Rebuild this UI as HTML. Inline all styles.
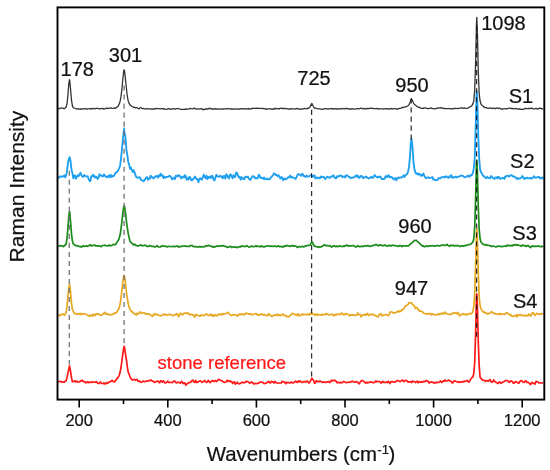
<!DOCTYPE html><html><head><meta charset="utf-8"><title>Raman spectra</title>
<style>html,body{margin:0;padding:0;background:#fff;}svg{display:block;}text{font-family:"Liberation Sans",Arial,sans-serif;fill:#111;stroke:#111;stroke-width:0.22px;}</style></head><body>
<svg width="550" height="470" viewBox="0 0 550 470">
<rect width="550" height="470" fill="#fff"/>
<polyline fill="none" stroke="#333333" stroke-width="1.3" stroke-linejoin="round" points="58.0,108.1 58.9,108.8 59.8,108.6 60.7,107.9 61.6,108.1 62.5,108.1 63.4,108.5 64.3,108.7 65.2,108.0 66.1,107.0 67.0,103.8 67.9,95.2 68.8,83.5 69.5,79.7 69.7,80.1 70.6,89.6 71.5,100.3 72.4,105.9 73.3,107.6 74.2,108.0 75.1,108.5 76.0,108.9 76.9,108.7 77.8,109.0 78.7,108.8 79.6,109.2 80.5,108.8 81.4,109.0 82.3,109.2 83.2,108.9 84.1,108.7 85.0,108.6 85.9,109.0 86.8,109.0 87.7,108.8 88.6,108.9 89.5,108.7 90.4,108.6 91.3,109.1 92.2,108.7 93.1,108.3 94.0,108.7 94.9,108.8 95.8,108.4 96.7,108.4 97.6,108.3 98.5,108.6 99.4,108.9 100.3,108.6 101.2,108.6 102.1,108.3 103.0,108.5 103.9,109.1 104.8,108.9 105.7,108.3 106.6,108.2 107.5,108.5 108.4,108.3 109.3,108.1 110.2,108.1 111.1,108.0 112.0,108.2 112.9,108.3 113.8,108.2 114.7,107.9 115.6,108.3 116.5,107.5 117.4,106.8 118.3,106.1 119.2,104.1 120.1,101.5 121.0,96.4 121.9,89.2 122.8,79.5 123.7,71.0 124.2,69.8 124.6,71.4 125.5,79.6 126.4,88.3 127.3,96.0 128.2,100.9 129.1,103.4 130.0,104.9 130.9,105.5 131.8,106.3 132.7,106.8 133.6,107.3 134.5,107.4 135.4,107.9 136.3,107.7 137.2,107.6 138.1,108.5 139.0,108.8 139.9,107.9 140.8,107.5 141.7,108.4 142.6,108.7 143.5,108.4 144.4,108.8 145.3,108.8 146.2,108.8 147.1,108.7 148.0,108.9 148.9,108.8 149.8,108.9 150.7,109.1 151.6,109.0 152.5,109.0 153.4,108.8 154.3,109.0 155.2,108.9 156.1,108.3 157.0,108.6 157.9,108.7 158.8,108.6 159.7,108.8 160.6,108.8 161.5,108.6 162.4,108.7 163.3,109.1 164.2,108.7 165.1,109.1 166.0,109.3 166.9,109.2 167.8,109.0 168.7,108.5 169.6,109.1 170.5,109.0 171.4,109.4 172.3,108.8 173.2,108.5 174.1,108.8 175.0,109.0 175.9,108.8 176.8,108.7 177.7,108.7 178.6,108.5 179.5,109.0 180.4,109.4 181.3,109.4 182.2,109.4 183.1,109.3 184.0,109.3 184.9,109.2 185.8,109.5 186.7,108.9 187.6,109.1 188.5,109.2 189.4,108.7 190.3,108.5 191.2,108.7 192.1,108.8 193.0,108.9 193.9,108.0 194.8,108.4 195.7,109.0 196.6,108.9 197.5,108.8 198.4,109.1 199.3,108.9 200.2,108.9 201.1,108.6 202.0,108.8 202.9,109.8 203.8,109.4 204.7,109.5 205.6,108.9 206.5,109.0 207.4,108.9 208.3,109.1 209.2,108.3 210.1,108.2 211.0,109.0 211.9,108.8 212.8,109.0 213.7,108.9 214.6,109.1 215.5,108.5 216.4,109.1 217.3,109.0 218.2,108.9 219.1,109.1 220.0,109.1 220.9,109.1 221.8,109.0 222.7,109.2 223.6,109.0 224.5,108.9 225.4,108.8 226.3,108.7 227.2,108.8 228.1,108.5 229.0,108.8 229.9,108.8 230.8,109.0 231.7,109.0 232.6,109.1 233.5,108.8 234.4,109.2 235.3,109.1 236.2,108.8 237.1,108.8 238.0,109.1 238.9,109.4 239.8,108.8 240.7,108.7 241.6,109.0 242.5,108.5 243.4,108.8 244.3,109.0 245.2,108.7 246.1,108.8 247.0,108.9 247.9,109.2 248.8,108.4 249.7,108.9 250.6,109.1 251.5,108.5 252.4,108.5 253.3,108.4 254.2,108.4 255.1,108.3 256.0,108.2 256.9,108.4 257.8,108.1 258.7,108.4 259.6,108.6 260.5,108.4 261.4,108.3 262.3,108.5 263.2,108.7 264.1,108.5 265.0,109.0 265.9,109.0 266.8,108.8 267.7,109.1 268.6,108.9 269.5,108.9 270.4,108.7 271.3,109.1 272.2,109.1 273.1,108.9 274.0,109.3 274.9,108.1 275.8,108.8 276.7,108.9 277.6,108.5 278.5,108.6 279.4,109.0 280.3,108.3 281.2,108.2 282.1,108.5 283.0,108.5 283.9,108.4 284.8,108.7 285.7,108.5 286.6,108.6 287.5,108.9 288.4,109.2 289.3,109.0 290.2,109.1 291.1,108.7 292.0,108.8 292.9,108.8 293.8,108.9 294.7,108.9 295.6,109.1 296.5,108.7 297.4,108.4 298.3,109.0 299.2,109.1 300.1,109.0 301.0,109.1 301.9,109.1 302.8,108.8 303.7,108.8 304.6,108.4 305.5,108.7 306.4,108.6 307.3,108.4 308.2,108.5 309.1,107.7 310.0,106.9 310.9,104.9 311.8,103.5 311.8,103.4 312.7,105.0 313.6,106.8 314.5,108.2 315.4,108.0 316.3,108.4 317.2,108.7 318.1,108.9 319.0,108.9 319.9,108.9 320.8,109.2 321.7,109.3 322.6,109.2 323.5,109.1 324.4,108.7 325.3,108.6 326.2,108.9 327.1,108.9 328.0,109.2 328.9,108.8 329.8,108.8 330.7,108.6 331.6,108.4 332.5,109.2 333.4,108.7 334.3,108.9 335.2,108.6 336.1,109.0 337.0,109.0 337.9,108.8 338.8,108.7 339.7,108.8 340.6,109.0 341.5,108.8 342.4,108.4 343.3,108.6 344.2,109.0 345.1,108.5 346.0,108.5 346.9,108.5 347.8,108.8 348.7,108.7 349.6,109.1 350.5,108.8 351.4,109.0 352.3,108.8 353.2,108.7 354.1,109.2 355.0,109.1 355.9,108.9 356.8,108.6 357.7,108.7 358.6,109.0 359.5,108.6 360.4,108.3 361.3,108.0 362.2,108.9 363.1,108.7 364.0,108.3 364.9,109.0 365.8,109.0 366.7,108.5 367.6,108.3 368.5,108.7 369.4,108.4 370.3,108.4 371.2,108.1 372.1,108.4 373.0,108.3 373.9,108.8 374.8,108.7 375.7,108.7 376.6,108.5 377.5,108.7 378.4,109.1 379.3,108.7 380.2,108.7 381.1,108.8 382.0,108.9 382.9,108.9 383.8,109.2 384.7,108.7 385.6,108.7 386.5,108.9 387.4,108.7 388.3,109.1 389.2,109.0 390.1,108.8 391.0,108.4 391.9,109.1 392.8,108.8 393.7,108.6 394.6,108.7 395.5,108.6 396.4,109.1 397.3,109.3 398.2,108.4 399.1,108.6 400.0,108.3 400.9,108.2 401.8,107.5 402.7,107.3 403.6,107.5 404.5,107.0 405.4,106.9 406.3,106.6 407.2,106.2 408.1,105.7 409.0,104.6 409.9,102.9 410.8,100.2 411.4,98.7 411.7,99.1 412.6,101.1 412.6,101.1 413.5,103.0 414.4,104.5 415.3,104.9 416.2,105.8 417.1,106.6 418.0,107.2 418.9,107.2 419.8,107.6 420.7,108.1 421.6,108.3 422.5,108.2 423.4,108.3 424.3,107.9 425.2,107.9 426.1,108.1 427.0,108.4 427.9,108.7 428.8,108.6 429.7,108.3 430.6,107.9 431.5,108.2 432.4,108.6 433.3,108.6 434.2,108.7 435.1,108.8 436.0,108.5 436.9,108.3 437.8,107.8 438.7,108.1 439.6,107.8 440.5,107.7 441.4,108.1 442.3,107.9 443.2,108.2 444.1,108.6 445.0,108.5 445.9,108.6 446.8,108.7 447.7,108.7 448.6,108.6 449.5,108.5 450.4,108.8 451.3,108.7 452.2,109.0 453.1,108.6 454.0,108.4 454.9,108.5 455.8,108.4 456.7,108.4 457.6,108.6 458.5,108.5 459.4,108.2 460.3,108.1 461.2,108.1 462.1,107.7 463.0,108.3 463.9,108.1 464.8,108.0 465.7,108.3 466.6,108.4 467.5,108.3 468.4,107.7 469.3,107.1 470.2,106.8 471.1,106.2 472.0,105.4 472.9,103.6 473.8,100.7 474.7,90.0 475.6,62.7 476.5,23.5 476.8,17.3 477.4,32.0 478.3,71.9 479.2,93.8 480.1,101.0 481.0,104.1 481.9,105.2 482.8,106.1 483.7,106.8 484.6,107.6 485.5,107.7 486.4,107.4 487.3,108.2 488.2,108.3 489.1,108.1 490.0,107.9 490.9,108.1 491.8,108.1 492.7,108.6 493.6,108.2 494.5,108.3 495.4,108.8 496.3,108.1 497.2,107.9 498.1,108.6 499.0,108.4 499.9,108.2 500.8,108.9 501.7,109.2 502.6,109.0 503.5,108.9 504.4,108.8 505.3,108.6 506.2,108.7 507.1,109.0 508.0,108.5 508.9,108.1 509.8,108.1 510.7,108.3 511.6,108.5 512.5,108.4 513.4,108.8 514.3,108.6 515.2,108.7 516.1,108.5 517.0,108.8 517.9,109.2 518.8,109.0 519.7,108.8 520.6,109.4 521.5,109.4 522.4,109.4 523.3,109.5 524.2,108.8 525.1,108.5 526.0,108.5 526.9,108.6 527.8,108.6 528.7,108.5 529.6,108.7 530.5,108.3 531.4,108.2 532.3,108.4 533.2,108.8 534.1,108.8 535.0,108.7 535.9,108.3 536.8,108.7 537.7,109.2 538.6,108.5 539.5,108.1 540.4,108.3 541.3,108.4 542.2,108.8 543.1,109.4"/>
<polyline fill="none" stroke="#1e9ff0" stroke-width="1.85" stroke-linejoin="round" points="58.0,177.8 58.9,177.8 59.8,176.4 60.7,176.4 61.6,176.8 62.5,176.5 63.4,176.5 64.3,175.3 65.2,177.3 66.1,175.6 67.0,171.1 67.9,163.2 68.8,159.0 69.5,157.6 69.7,157.1 70.6,161.3 71.5,169.8 72.4,173.2 73.3,178.4 74.2,175.5 75.1,175.6 76.0,178.8 76.9,176.9 77.8,175.1 78.7,176.0 79.6,174.4 80.5,172.6 81.4,175.2 82.3,176.5 83.2,176.8 84.1,175.0 85.0,175.9 85.9,176.4 86.8,176.4 87.7,176.2 88.6,179.0 89.5,180.6 90.4,181.1 91.3,176.2 92.2,176.2 93.1,174.6 94.0,176.5 94.9,177.6 95.8,176.3 96.7,177.2 97.6,179.0 98.5,178.0 99.4,174.2 100.3,175.3 101.2,175.5 102.1,176.3 103.0,176.4 103.9,174.4 104.8,175.6 105.7,176.8 106.6,176.5 107.5,177.4 108.4,176.1 109.3,175.2 110.2,177.3 111.1,175.0 112.0,176.9 112.9,175.9 113.8,176.1 114.7,174.4 115.6,172.9 116.5,172.4 117.4,171.6 118.3,170.0 119.2,168.2 120.1,165.7 121.0,158.8 121.9,150.0 122.8,140.0 123.7,132.1 124.2,128.4 124.2,130.9 124.6,132.9 125.5,137.6 126.4,149.4 127.3,154.9 128.2,161.8 129.1,164.4 130.0,168.9 130.9,167.5 131.8,170.0 132.7,172.1 133.6,170.0 134.5,172.1 135.4,174.9 136.3,177.3 137.2,177.4 138.1,177.9 139.0,177.1 139.9,177.4 140.8,179.7 141.7,180.1 142.6,180.3 143.5,181.3 144.4,180.3 145.3,179.1 146.2,177.6 147.1,177.1 148.0,179.6 148.9,178.5 149.8,178.7 150.7,175.6 151.6,177.4 152.5,177.1 153.4,178.5 154.3,178.0 155.2,176.3 156.1,176.4 157.0,175.9 157.9,177.7 158.8,175.4 159.7,176.3 160.6,173.6 161.5,175.6 162.4,175.1 163.3,178.0 164.2,176.5 165.1,177.8 166.0,177.4 166.9,176.6 167.8,177.0 168.7,176.4 169.6,175.9 170.5,176.3 171.4,177.8 172.3,179.5 173.2,178.5 174.1,177.6 175.0,179.1 175.9,175.6 176.8,176.3 177.7,176.4 178.6,175.1 179.5,175.6 180.4,176.8 181.3,178.5 182.2,176.8 183.1,176.5 184.0,177.6 184.9,175.2 185.8,176.2 186.7,179.8 187.6,178.2 188.5,179.5 189.4,176.8 190.3,177.4 191.2,180.3 192.1,180.3 193.0,178.9 193.9,178.6 194.8,176.5 195.7,177.6 196.6,179.2 197.5,179.1 198.4,182.2 199.3,179.3 200.2,178.0 201.1,179.3 202.0,179.6 202.9,177.0 203.8,174.6 204.7,176.7 205.6,178.2 206.5,175.6 207.4,179.1 208.3,177.0 209.2,177.7 210.1,176.4 211.0,178.0 211.9,175.6 212.8,176.9 213.7,180.0 214.6,180.3 215.5,177.4 216.4,174.8 217.3,176.1 218.2,176.6 219.1,176.9 220.0,175.7 220.9,176.1 221.8,176.9 222.7,178.4 223.6,175.8 224.5,175.8 225.4,178.6 226.3,174.3 227.2,175.4 228.1,177.4 229.0,178.5 229.9,174.8 230.8,174.5 231.7,176.6 232.6,178.2 233.5,175.1 234.4,177.1 235.3,176.8 236.2,172.4 237.1,173.0 238.0,175.4 238.9,177.4 239.8,176.8 240.7,179.7 241.6,177.2 242.5,177.9 243.4,179.0 244.3,179.2 245.2,176.8 246.1,177.1 247.0,177.0 247.9,176.5 248.8,178.6 249.7,179.6 250.6,179.8 251.5,177.7 252.4,176.1 253.3,176.7 254.2,176.4 255.1,178.3 256.0,178.0 256.9,178.3 257.8,178.2 258.7,174.8 259.6,175.6 260.5,177.8 261.4,178.1 262.3,177.7 263.2,178.9 264.1,177.6 265.0,179.2 265.9,178.7 266.8,179.1 267.7,178.7 268.6,179.4 269.5,179.3 270.4,178.2 271.3,177.2 272.2,176.1 273.1,175.0 274.0,173.3 274.9,173.9 275.8,175.1 276.7,175.0 277.6,176.3 278.5,175.2 279.4,176.5 280.3,178.6 281.2,177.2 282.1,177.5 283.0,180.3 283.9,178.9 284.8,178.4 285.7,179.4 286.6,178.8 287.5,178.3 288.4,177.2 289.3,176.9 290.2,175.5 291.1,177.7 292.0,177.0 292.9,177.6 293.8,177.6 294.7,178.6 295.6,178.9 296.5,177.2 297.4,175.1 298.3,174.0 299.2,174.6 300.1,175.0 301.0,175.8 301.9,174.0 302.8,174.2 303.7,176.0 304.6,176.3 305.5,177.0 306.4,175.4 307.3,176.2 308.2,176.8 309.1,176.3 310.0,175.6 310.9,175.3 311.8,175.6 311.8,175.9 312.7,176.8 313.6,175.8 314.5,175.3 315.4,178.6 316.3,177.8 317.2,177.5 318.1,178.4 319.0,177.7 319.9,178.1 320.8,176.4 321.7,177.4 322.6,177.0 323.5,176.6 324.4,177.9 325.3,179.1 326.2,178.0 327.1,176.7 328.0,177.1 328.9,177.1 329.8,178.0 330.7,177.0 331.6,176.3 332.5,176.5 333.4,175.3 334.3,177.0 335.2,178.3 336.1,178.4 337.0,176.2 337.9,176.7 338.8,176.0 339.7,176.2 340.6,175.3 341.5,175.8 342.4,177.2 343.3,176.7 344.2,176.2 345.1,177.6 346.0,175.5 346.9,175.3 347.8,175.8 348.7,176.9 349.6,177.0 350.5,178.2 351.4,177.6 352.3,177.9 353.2,177.4 354.1,177.4 355.0,176.3 355.9,175.4 356.8,176.7 357.7,175.4 358.6,177.6 359.5,177.9 360.4,176.2 361.3,176.0 362.2,176.3 363.1,178.2 364.0,177.5 364.9,177.1 365.8,176.5 366.7,177.6 367.6,177.5 368.5,178.5 369.4,177.9 370.3,177.6 371.2,176.7 372.1,177.9 373.0,177.8 373.9,176.2 374.8,175.1 375.7,176.3 376.6,176.9 377.5,177.5 378.4,176.7 379.3,177.0 380.2,176.5 381.1,177.9 382.0,179.2 382.9,179.0 383.8,179.1 384.7,178.7 385.6,176.1 386.5,176.2 387.4,177.3 388.3,175.1 389.2,176.2 390.1,177.4 391.0,176.7 391.9,177.2 392.8,178.4 393.7,179.5 394.6,178.1 395.5,178.3 396.4,180.4 397.3,178.1 398.2,177.5 399.1,178.1 400.0,177.5 400.9,177.5 401.8,177.6 402.7,176.7 403.6,175.2 404.5,176.9 405.4,175.4 406.3,174.5 407.2,173.9 408.1,171.3 409.0,166.9 409.9,157.3 410.8,143.7 411.4,138.8 411.7,140.0 412.6,148.3 413.5,162.1 414.4,168.7 415.3,172.2 416.2,173.8 417.1,173.3 418.0,174.7 418.9,173.6 419.8,174.0 420.7,175.8 421.6,174.7 422.5,175.5 423.4,173.4 424.3,175.9 425.2,177.2 426.1,178.2 427.0,177.7 427.9,177.2 428.8,177.6 429.7,178.1 430.6,177.9 431.5,177.5 432.4,176.9 433.3,179.6 434.2,179.4 435.1,179.8 436.0,180.4 436.9,180.2 437.8,179.5 438.7,178.0 439.6,178.4 440.5,178.4 441.4,177.2 442.3,177.1 443.2,177.3 444.1,176.8 445.0,177.5 445.9,176.4 446.8,176.5 447.7,177.5 448.6,178.1 449.5,176.2 450.4,176.8 451.3,175.1 452.2,177.7 453.1,177.1 454.0,177.7 454.9,177.0 455.8,176.4 456.7,177.5 457.6,177.0 458.5,176.6 459.4,176.5 460.3,175.9 461.2,175.5 462.1,175.6 463.0,176.1 463.9,176.8 464.8,177.4 465.7,177.0 466.6,176.5 467.5,175.5 468.4,176.4 469.3,176.8 470.2,175.2 471.1,175.6 472.0,174.8 472.9,172.7 473.8,168.4 474.7,158.5 475.6,129.7 476.5,95.3 476.8,91.5 477.4,102.4 478.3,136.8 479.2,158.9 480.1,169.4 481.0,171.9 481.9,173.4 482.8,175.5 483.7,175.8 484.6,177.1 485.5,177.8 486.4,178.2 487.3,176.8 488.2,177.7 489.1,178.2 490.0,178.3 490.9,176.0 491.8,176.6 492.7,177.7 493.6,178.4 494.5,178.9 495.4,177.4 496.3,177.3 497.2,178.5 498.1,176.6 499.0,177.0 499.9,178.7 500.8,178.7 501.7,178.4 502.6,177.8 503.5,178.1 504.4,178.9 505.3,176.4 506.2,176.6 507.1,175.7 508.0,175.6 508.9,176.5 509.8,175.9 510.7,175.2 511.6,175.2 512.5,176.1 513.4,176.7 514.3,176.5 515.2,177.4 516.1,177.9 517.0,179.1 517.9,178.0 518.8,178.8 519.7,178.6 520.6,178.1 521.5,177.4 522.4,176.1 523.3,177.6 524.2,179.1 525.1,178.1 526.0,178.3 526.9,177.6 527.8,178.3 528.7,178.3 529.6,178.0 530.5,178.1 531.4,178.9 532.3,178.0 533.2,177.1 534.1,176.3 535.0,177.6 535.9,177.9 536.8,177.3 537.7,177.2 538.6,176.7 539.5,177.8 540.4,178.6 541.3,177.6 542.2,177.5 543.1,179.1"/>
<polyline fill="none" stroke="#1c8c1c" stroke-width="1.7" stroke-linejoin="round" points="58.0,246.3 58.9,246.1 59.8,245.7 60.7,245.7 61.6,245.9 62.5,245.8 63.4,246.7 64.3,245.4 65.2,245.4 66.1,244.1 67.0,238.6 67.9,228.1 68.8,215.7 69.5,211.7 69.7,211.9 70.6,222.0 71.5,233.8 72.4,241.1 73.3,243.9 74.2,244.5 75.1,245.3 76.0,245.9 76.9,245.6 77.8,245.8 78.7,246.3 79.6,246.6 80.5,246.5 81.4,247.2 82.3,246.0 83.2,245.9 84.1,246.6 85.0,246.1 85.9,246.2 86.8,245.7 87.7,246.4 88.6,246.0 89.5,245.1 90.4,244.9 91.3,246.0 92.2,245.5 93.1,245.2 94.0,245.5 94.9,245.0 95.8,246.0 96.7,245.8 97.6,246.2 98.5,245.6 99.4,246.0 100.3,246.4 101.2,246.7 102.1,245.5 103.0,245.5 103.9,245.4 104.8,245.2 105.7,245.5 106.6,245.8 107.5,245.9 108.4,245.7 109.3,245.0 110.2,245.8 111.1,245.6 112.0,245.2 112.9,244.7 113.8,244.4 114.7,244.7 115.6,244.4 116.5,243.1 117.4,241.6 118.3,240.3 119.2,238.3 120.1,234.8 121.0,229.1 121.9,221.7 122.8,213.1 123.7,207.2 124.2,205.9 124.6,206.7 125.5,212.7 126.4,221.0 127.3,227.6 128.2,233.4 129.1,237.5 130.0,241.2 130.9,242.3 131.8,243.2 132.7,243.7 133.6,245.0 134.5,244.3 135.4,244.6 136.3,245.7 137.2,245.9 138.1,245.9 139.0,245.6 139.9,245.3 140.8,244.9 141.7,245.6 142.6,245.5 143.5,245.6 144.4,245.2 145.3,245.4 146.2,245.5 147.1,246.3 148.0,246.3 148.9,246.3 149.8,245.5 150.7,245.8 151.6,246.3 152.5,246.4 153.4,246.3 154.3,246.8 155.2,247.0 156.1,246.4 157.0,245.7 157.9,246.6 158.8,246.9 159.7,247.0 160.6,246.8 161.5,246.0 162.4,245.8 163.3,246.1 164.2,246.1 165.1,246.2 166.0,246.4 166.9,247.0 167.8,246.6 168.7,246.3 169.6,246.5 170.5,246.5 171.4,246.7 172.3,246.5 173.2,246.2 174.1,246.6 175.0,246.6 175.9,246.2 176.8,246.1 177.7,246.0 178.6,247.2 179.5,246.5 180.4,246.7 181.3,246.5 182.2,246.1 183.1,246.0 184.0,246.0 184.9,246.2 185.8,245.9 186.7,246.5 187.6,246.5 188.5,246.2 189.4,246.4 190.3,245.5 191.2,245.6 192.1,245.5 193.0,246.3 193.9,246.7 194.8,246.6 195.7,246.6 196.6,247.1 197.5,247.0 198.4,247.0 199.3,246.5 200.2,247.1 201.1,246.5 202.0,246.9 202.9,246.9 203.8,246.7 204.7,246.7 205.6,246.1 206.5,245.6 207.4,245.8 208.3,245.6 209.2,245.4 210.1,245.9 211.0,246.2 211.9,246.6 212.8,247.1 213.7,246.5 214.6,247.2 215.5,246.5 216.4,246.4 217.3,245.9 218.2,246.2 219.1,246.3 220.0,245.8 220.9,245.9 221.8,245.8 222.7,245.7 223.6,245.9 224.5,246.1 225.4,246.5 226.3,246.7 227.2,247.4 228.1,247.0 229.0,247.2 229.9,246.4 230.8,246.4 231.7,247.5 232.6,246.9 233.5,247.0 234.4,247.3 235.3,246.9 236.2,247.3 237.1,247.7 238.0,247.1 238.9,246.8 239.8,246.6 240.7,246.8 241.6,246.0 242.5,245.8 243.4,246.5 244.3,246.4 245.2,246.3 246.1,246.4 247.0,245.7 247.9,246.4 248.8,247.0 249.7,247.1 250.6,246.6 251.5,245.9 252.4,246.6 253.3,246.6 254.2,246.5 255.1,246.4 256.0,245.7 256.9,246.5 257.8,246.2 258.7,246.3 259.6,246.3 260.5,246.8 261.4,245.9 262.3,246.4 263.2,246.6 264.1,246.9 265.0,246.7 265.9,246.2 266.8,245.9 267.7,246.0 268.6,245.9 269.5,246.1 270.4,246.4 271.3,246.1 272.2,246.2 273.1,246.5 274.0,246.2 274.9,246.0 275.8,246.4 276.7,246.6 277.6,246.2 278.5,245.8 279.4,246.6 280.3,246.7 281.2,246.7 282.1,246.3 283.0,247.1 283.9,246.3 284.8,245.9 285.7,246.3 286.6,245.5 287.5,245.6 288.4,246.0 289.3,245.9 290.2,246.4 291.1,246.0 292.0,245.3 292.9,246.2 293.8,245.6 294.7,246.2 295.6,246.1 296.5,246.6 297.4,247.5 298.3,246.9 299.2,246.5 300.1,247.0 301.0,246.9 301.9,246.3 302.8,246.6 303.7,246.9 304.6,246.4 305.5,245.7 306.4,246.0 307.3,245.5 308.2,245.2 309.1,245.5 310.0,245.1 310.9,243.4 311.8,241.9 311.8,241.6 312.7,242.9 313.6,244.8 314.5,246.2 315.4,246.4 316.3,246.7 317.2,246.8 318.1,247.2 319.0,247.3 319.9,246.8 320.8,246.9 321.7,246.6 322.6,245.9 323.5,245.7 324.4,244.7 325.3,245.3 326.2,245.9 327.1,245.5 328.0,245.7 328.9,246.0 329.8,245.6 330.7,246.4 331.6,247.2 332.5,246.0 333.4,246.2 334.3,245.6 335.2,246.4 336.1,246.6 337.0,245.8 337.9,246.6 338.8,246.3 339.7,245.9 340.6,246.3 341.5,246.5 342.4,246.3 343.3,246.1 344.2,246.5 345.1,245.9 346.0,245.6 346.9,245.0 347.8,245.9 348.7,246.2 349.6,245.7 350.5,245.9 351.4,245.8 352.3,245.7 353.2,245.5 354.1,246.1 355.0,246.3 355.9,247.1 356.8,246.6 357.7,245.7 358.6,246.4 359.5,246.7 360.4,246.7 361.3,246.1 362.2,246.2 363.1,246.6 364.0,246.0 364.9,245.9 365.8,245.9 366.7,246.2 367.6,245.5 368.5,245.9 369.4,246.2 370.3,246.4 371.2,246.1 372.1,245.6 373.0,245.7 373.9,245.1 374.8,244.9 375.7,244.5 376.6,244.7 377.5,245.1 378.4,245.8 379.3,245.1 380.2,244.9 381.1,245.2 381.3,245.2 382.0,245.6 382.9,245.7 383.8,245.7 384.7,245.0 385.6,245.4 386.5,245.8 387.4,246.2 388.3,245.8 389.2,245.2 390.1,245.6 391.0,246.0 391.9,245.3 392.8,245.2 393.7,245.5 394.6,245.6 395.5,245.6 396.4,245.9 397.3,246.0 398.2,246.4 399.1,245.7 400.0,245.8 400.9,245.5 401.8,246.7 402.7,245.9 403.6,245.8 404.5,246.2 405.4,246.0 406.3,245.8 407.2,245.8 408.1,246.0 409.0,245.5 409.9,244.4 410.8,243.6 411.7,243.2 412.6,242.4 413.5,241.3 414.4,240.3 415.3,240.5 415.9,240.7 416.2,240.3 417.1,241.2 418.0,241.9 418.9,242.6 419.8,243.5 420.7,244.8 421.6,245.0 422.5,246.1 423.4,245.8 424.3,246.6 425.2,246.6 426.1,245.9 427.0,246.2 427.9,246.4 428.8,246.2 429.7,245.8 430.6,245.9 431.5,245.8 432.4,245.5 433.3,246.1 434.2,246.2 435.1,246.2 436.0,245.6 436.9,245.6 437.8,245.5 438.7,246.0 439.6,245.9 440.5,245.4 441.4,245.5 442.3,245.0 443.2,244.9 444.1,245.4 445.0,245.3 445.9,245.2 446.8,244.5 446.9,244.3 447.7,245.3 448.6,245.6 449.5,246.3 450.4,245.4 451.3,245.4 452.2,245.6 453.1,245.2 454.0,245.9 454.9,245.6 455.8,245.6 456.7,246.0 457.6,245.4 458.5,245.5 459.4,246.5 460.3,246.5 461.2,245.8 462.1,245.9 463.0,246.3 463.9,245.9 464.8,245.7 465.7,245.6 466.6,245.2 467.5,245.2 468.4,244.6 469.3,244.5 470.2,244.5 471.1,243.9 472.0,243.0 472.9,241.9 473.8,238.7 474.7,226.6 475.6,198.9 476.5,164.1 476.8,160.1 477.4,171.2 478.3,207.0 479.2,229.6 480.1,238.8 481.0,241.9 481.9,243.1 482.8,244.1 483.7,244.5 484.6,244.9 485.5,244.9 486.4,244.5 487.3,245.3 488.2,245.4 489.1,245.5 490.0,245.5 490.9,246.3 491.8,246.4 492.7,246.2 493.6,246.1 494.5,246.5 495.4,246.8 496.3,247.0 497.2,246.4 498.1,246.0 499.0,246.3 499.9,246.3 500.8,246.3 501.7,246.7 502.6,246.5 503.5,246.3 504.4,246.0 505.3,246.1 506.2,246.3 507.1,245.4 508.0,245.1 508.9,245.8 509.8,245.7 510.7,245.6 511.6,245.4 512.5,245.9 513.4,244.8 514.3,245.1 515.2,244.6 516.1,244.9 516.9,245.2 517.0,245.1 517.9,244.8 518.8,245.5 519.7,245.5 520.6,245.7 521.5,246.1 522.4,245.2 523.3,245.4 524.2,245.8 525.1,245.6 526.0,246.4 526.9,246.1 527.8,245.4 528.7,245.7 529.6,247.1 530.5,247.6 531.4,246.6 532.3,245.8 533.2,246.3 534.1,246.3 535.0,246.1 535.9,246.5 536.8,246.2 537.7,246.0 538.6,246.1 539.5,246.3 540.4,246.6 541.3,246.4 542.2,246.6 543.1,245.9"/>
<polyline fill="none" stroke="#e6a822" stroke-width="1.7" stroke-linejoin="round" points="58.0,315.5 58.9,315.1 59.8,315.9 60.7,314.5 61.6,314.6 62.5,314.1 63.4,314.2 64.3,315.3 65.2,314.8 66.1,312.3 67.0,306.7 67.9,297.4 68.8,287.7 69.5,284.3 69.7,284.8 70.6,292.9 71.5,303.1 72.4,309.5 73.3,311.1 74.2,313.5 75.1,313.8 76.0,313.5 76.9,314.3 77.8,314.1 78.7,313.7 79.6,313.5 80.5,314.6 81.4,313.3 82.3,314.2 83.2,314.1 84.1,313.7 85.0,314.0 85.9,314.1 86.8,315.0 87.7,315.4 88.6,315.5 89.5,316.1 90.4,315.0 91.3,316.0 92.2,316.1 93.1,314.1 94.0,315.2 94.9,315.7 95.8,313.8 96.7,314.4 97.6,313.7 98.5,314.5 99.4,314.3 100.3,315.2 101.2,315.4 102.1,314.8 103.0,314.0 103.9,313.2 104.8,312.4 105.7,314.4 106.6,313.5 107.5,314.2 108.4,314.2 109.3,315.0 110.2,315.0 111.1,314.5 112.0,314.6 112.9,314.0 113.8,314.0 114.7,312.8 115.6,313.1 116.5,312.5 117.4,311.0 118.3,309.8 119.2,307.8 120.1,304.1 121.0,298.5 121.9,290.4 122.8,282.3 123.7,276.3 124.2,275.3 124.6,277.1 125.5,283.1 126.4,292.2 127.3,297.9 128.2,303.6 129.1,307.1 130.0,309.1 130.9,310.9 131.8,312.0 132.7,311.9 133.6,313.1 134.5,314.2 135.4,314.0 136.3,315.0 137.2,313.2 138.1,313.9 139.0,313.6 139.9,312.0 140.8,312.0 141.7,313.4 142.6,313.3 143.5,312.9 144.4,312.8 145.3,314.0 146.2,314.1 147.1,313.6 148.0,314.2 148.9,314.0 149.8,314.3 150.7,315.4 151.6,315.6 152.5,316.4 153.4,314.7 154.3,313.7 155.2,315.1 156.1,314.0 157.0,314.2 157.9,315.2 158.8,315.4 159.7,315.4 160.6,315.9 161.5,315.4 162.4,314.9 163.3,314.3 164.2,314.2 165.1,315.0 166.0,314.3 166.9,315.1 167.8,314.8 168.7,314.4 169.6,314.6 170.5,314.7 171.4,314.7 172.3,315.4 173.2,315.6 174.1,315.2 175.0,314.5 175.9,314.8 176.8,313.6 177.7,314.8 178.6,316.7 179.5,314.9 180.4,313.2 181.3,314.1 182.2,314.6 183.1,314.6 184.0,313.2 184.9,313.1 185.8,313.3 186.7,313.3 187.6,312.8 188.5,313.4 189.4,314.8 190.3,314.1 191.2,314.5 192.1,314.9 193.0,314.7 193.9,315.6 194.8,317.3 195.7,314.7 196.6,314.6 197.5,315.5 198.4,315.7 199.3,315.5 200.2,316.1 201.1,315.1 202.0,315.2 202.9,315.3 203.8,315.7 204.7,315.4 205.6,314.2 206.5,314.0 207.4,314.7 208.3,315.3 209.2,315.7 210.1,314.6 211.0,314.2 211.9,315.9 212.8,314.8 213.7,316.4 214.6,315.3 215.5,314.7 216.4,315.7 217.3,315.8 218.2,314.6 219.1,314.1 220.0,314.8 220.9,314.0 221.8,314.9 222.7,313.5 223.6,314.1 224.5,314.0 225.4,313.6 226.3,313.5 227.2,312.5 228.1,312.4 229.0,313.7 229.9,314.6 230.8,315.4 231.7,315.3 232.6,314.8 233.5,314.9 234.4,314.9 235.3,314.9 236.2,314.9 237.1,316.1 238.0,315.9 238.9,314.3 239.8,314.2 240.7,314.7 241.6,313.6 242.5,314.4 243.4,314.4 244.3,315.0 245.2,313.4 246.1,313.7 247.0,313.2 247.9,313.6 248.8,314.2 249.7,314.2 250.6,313.7 251.5,314.5 252.4,314.7 253.3,314.5 254.2,314.0 255.1,313.8 256.0,313.5 256.9,314.7 257.8,314.4 258.7,315.4 259.6,314.8 260.5,314.7 261.4,313.7 262.3,314.4 263.2,315.1 264.1,314.6 265.0,314.8 265.9,315.3 266.8,315.6 267.7,315.7 268.6,313.6 269.5,314.9 270.4,315.0 271.3,316.3 272.2,316.3 273.1,315.5 274.0,315.2 274.9,314.8 275.8,315.7 276.7,314.8 277.6,314.2 278.5,315.5 279.4,314.8 280.3,315.6 281.2,314.9 282.1,314.6 283.0,314.0 283.9,315.6 284.8,315.5 285.7,315.3 286.6,316.7 287.5,316.4 288.4,316.8 289.3,316.6 290.2,315.4 291.1,314.8 292.0,313.4 292.9,313.7 293.8,313.8 294.7,314.6 295.6,314.6 296.5,314.6 297.4,315.7 298.3,313.8 299.2,315.2 300.1,315.8 301.0,315.4 301.9,314.3 302.8,314.0 303.7,314.8 304.6,314.3 305.5,314.5 306.4,314.9 307.3,314.2 308.2,314.4 309.1,315.1 310.0,313.4 310.9,314.0 311.8,312.8 311.8,313.4 312.7,313.9 313.6,314.4 314.5,314.1 315.4,315.4 316.3,314.9 317.2,313.9 318.1,315.2 319.0,315.0 319.9,314.5 320.8,315.1 321.7,314.6 322.6,314.9 323.5,314.1 324.4,314.5 325.3,314.8 326.2,313.4 327.1,314.1 328.0,314.5 328.9,314.9 329.8,314.7 330.7,314.5 331.6,314.3 332.5,314.2 333.4,315.8 334.3,315.4 335.2,314.4 336.1,314.9 337.0,314.6 337.9,313.8 338.8,314.4 339.7,314.3 340.6,314.3 341.5,313.1 342.4,313.6 343.3,314.7 344.2,314.3 345.1,314.9 346.0,313.5 346.9,313.6 347.8,314.3 348.7,314.9 349.6,315.8 350.5,314.6 351.4,315.1 352.3,315.2 353.2,314.7 354.1,315.4 355.0,315.3 355.9,315.3 356.8,315.2 357.7,313.0 358.6,314.4 359.5,314.8 360.4,314.6 361.3,316.9 362.2,315.2 363.1,314.8 364.0,315.0 364.9,314.2 365.8,315.3 366.7,314.0 367.6,313.5 368.5,315.5 369.4,315.2 370.3,314.3 371.2,314.2 372.1,314.7 373.0,314.3 373.9,314.7 374.8,315.8 375.7,315.4 376.6,316.2 377.5,316.9 378.4,316.7 379.3,314.4 380.2,314.5 381.1,313.7 382.0,315.8 382.9,315.4 383.8,314.9 384.7,315.0 385.6,314.6 386.5,314.7 387.4,315.2 388.3,315.9 389.2,314.4 390.1,312.1 391.0,312.0 391.9,311.7 392.8,312.8 393.7,312.8 394.6,313.1 395.5,312.4 396.4,312.4 397.3,311.8 398.2,310.9 399.1,311.9 400.0,311.0 400.9,311.4 401.8,309.7 402.7,309.8 403.6,309.0 404.5,307.7 405.4,305.8 406.3,305.6 407.2,305.0 408.1,304.3 409.0,302.7 409.9,302.9 410.1,302.9 410.8,302.7 411.7,303.1 412.6,304.8 413.5,305.1 414.4,305.7 415.3,308.4 416.2,307.6 417.1,307.6 418.0,309.8 418.9,309.9 419.8,311.3 420.7,310.9 421.6,311.5 422.5,311.8 423.4,313.0 424.3,313.5 425.2,313.6 426.1,313.9 427.0,313.9 427.9,313.7 428.8,314.1 429.7,313.5 430.6,313.4 431.5,315.0 432.4,313.8 433.3,314.3 434.2,314.8 435.1,315.0 436.0,314.8 436.9,314.6 437.8,314.0 438.7,314.7 439.6,313.6 440.5,314.3 441.4,313.4 442.3,313.2 443.2,314.3 444.1,312.8 445.0,312.1 445.9,313.7 446.8,313.5 447.7,314.0 448.6,314.2 449.5,314.5 450.4,314.6 451.3,313.7 452.2,313.4 453.1,313.7 454.0,312.6 454.9,312.7 455.8,313.1 456.7,313.9 457.6,312.4 458.5,313.1 459.4,315.6 460.3,315.5 461.2,314.9 462.1,313.9 463.0,313.7 463.9,314.7 464.8,314.4 465.7,314.2 466.6,315.1 467.5,314.0 468.4,314.1 469.3,313.7 470.2,313.6 471.1,313.9 472.0,313.1 472.9,310.9 473.8,306.7 474.7,294.4 475.6,265.5 476.5,233.0 476.8,229.2 477.4,239.0 478.3,273.6 479.2,297.0 480.1,305.6 481.0,309.0 481.9,310.2 482.8,311.4 483.7,312.4 484.6,312.2 485.5,313.0 486.4,313.1 487.3,313.9 488.2,313.4 489.1,313.6 490.0,313.1 490.9,312.0 491.8,311.7 492.7,312.8 493.6,313.6 494.5,313.2 495.4,313.6 496.3,314.2 497.2,314.0 498.1,314.2 499.0,314.4 499.9,313.4 500.8,314.5 501.7,314.5 502.6,313.6 503.5,314.2 504.4,314.4 505.3,313.9 506.2,312.9 507.1,312.9 508.0,313.4 508.9,314.4 509.8,315.0 510.7,314.5 511.6,316.1 512.5,316.0 513.4,316.6 514.3,316.1 515.2,315.6 516.1,315.0 517.0,317.0 517.9,314.7 518.8,315.5 519.7,314.9 520.6,314.6 521.5,315.6 522.4,315.4 523.3,315.1 524.2,315.7 525.1,316.1 526.0,315.5 526.9,315.4 527.8,315.9 528.7,314.1 529.6,314.5 530.5,316.1 531.4,314.9 532.3,312.8 533.2,312.8 534.1,314.0 535.0,315.4 535.9,314.5 536.8,313.4 537.7,313.8 538.6,314.4 539.5,314.5 540.4,313.6 541.3,314.1 542.2,313.9 543.1,313.7"/>
<polyline fill="none" stroke="#ff1a1a" stroke-width="1.7" stroke-linejoin="round" points="58.0,382.4 58.9,381.5 59.8,381.4 60.7,381.6 61.6,382.1 62.5,381.8 63.4,382.2 64.3,382.2 65.2,381.1 66.1,380.9 67.0,377.6 67.9,373.4 68.8,368.9 69.5,365.9 69.7,367.0 70.6,371.6 71.5,377.5 72.4,381.7 73.3,381.6 74.2,381.4 75.1,380.8 76.0,381.9 76.9,381.1 77.8,382.1 78.7,382.0 79.6,382.0 80.5,380.7 81.4,381.0 82.3,380.2 83.2,381.4 84.1,381.7 85.0,381.9 85.9,382.9 86.8,382.5 87.7,381.7 88.6,382.6 89.5,382.4 90.4,382.3 91.3,381.9 92.2,382.4 93.1,382.2 94.0,381.8 94.9,382.0 95.8,382.4 96.7,381.7 97.6,383.1 98.5,383.5 99.4,383.3 100.3,382.0 101.2,382.8 102.1,383.5 103.0,383.6 103.9,382.9 104.8,383.8 105.7,383.8 106.6,382.6 107.5,383.3 108.4,382.5 109.3,381.9 110.2,381.8 111.1,381.2 112.0,380.2 112.9,381.3 113.8,381.9 114.7,381.8 115.6,380.3 116.5,379.4 117.4,378.1 118.3,377.2 119.2,375.3 120.1,372.3 121.0,367.5 121.9,360.8 122.8,354.0 123.7,348.1 124.2,346.2 124.6,347.9 125.5,354.3 126.4,359.6 127.3,366.6 128.2,372.1 129.1,374.3 130.0,376.7 130.9,378.5 131.8,379.5 132.7,380.1 133.6,379.6 134.5,379.3 135.4,380.2 136.3,379.9 137.2,379.4 138.1,381.4 139.0,381.0 139.9,381.4 140.8,382.1 141.7,382.1 142.6,381.4 143.5,381.2 144.4,381.8 145.3,381.5 146.2,381.0 147.1,381.1 148.0,380.7 148.9,380.8 149.8,380.6 150.7,379.8 151.6,380.6 152.5,381.2 153.4,381.2 154.3,382.4 155.2,382.2 156.1,381.5 157.0,381.4 157.9,381.0 158.8,382.1 159.7,382.8 160.6,380.7 161.5,381.0 162.4,382.2 163.3,380.9 164.2,381.7 165.1,383.1 166.0,382.5 166.9,382.2 167.8,381.1 168.7,382.5 169.6,382.4 170.5,382.4 171.4,382.5 172.3,382.6 173.2,381.7 174.1,381.0 175.0,381.4 175.9,382.6 176.8,382.8 177.7,382.1 178.6,382.5 179.5,382.8 180.4,383.2 181.3,381.3 182.2,382.1 183.1,383.7 184.0,382.8 184.9,382.9 185.8,385.2 186.7,384.2 187.6,383.5 188.5,382.5 189.4,382.6 190.3,382.4 191.2,381.8 192.1,380.3 193.0,380.2 193.9,382.1 194.8,382.3 195.7,380.3 196.6,382.3 197.5,382.3 198.4,381.7 199.3,381.2 200.2,380.8 201.1,381.4 202.0,382.3 202.9,381.6 203.8,381.4 204.7,380.5 205.6,381.6 206.5,382.5 207.4,382.0 208.3,380.3 209.2,381.5 210.1,382.6 211.0,381.7 211.9,381.0 212.8,380.4 213.7,381.6 214.6,380.8 215.5,380.7 216.4,381.6 217.3,381.1 218.2,379.5 219.1,379.4 220.0,380.1 220.9,380.6 221.8,380.5 222.7,381.5 223.6,381.9 224.5,382.5 225.4,382.2 226.3,381.8 227.2,380.2 228.1,381.6 229.0,380.9 229.9,380.9 230.8,381.8 231.7,381.5 232.6,383.4 233.5,382.2 234.4,381.9 235.3,384.1 236.2,383.6 237.1,382.2 238.0,383.1 238.9,383.9 239.8,383.6 240.7,383.3 241.6,382.4 242.5,382.3 243.4,382.7 244.3,382.8 245.2,382.2 246.1,381.2 247.0,381.7 247.9,381.7 248.8,382.4 249.7,383.2 250.6,382.8 251.5,381.9 252.4,382.4 253.3,383.5 254.2,384.1 255.1,383.3 256.0,383.5 256.9,383.6 257.8,383.4 258.7,382.9 259.6,382.6 260.5,382.1 261.4,382.1 262.3,382.1 263.2,382.7 264.1,383.7 265.0,383.5 265.9,382.9 266.8,382.9 267.7,382.0 268.6,381.3 269.5,382.5 270.4,383.0 271.3,381.3 272.2,381.8 273.1,381.9 274.0,383.1 274.9,381.5 275.8,382.1 276.7,383.0 277.6,383.3 278.5,383.0 279.4,383.0 280.3,383.0 281.2,383.0 282.1,381.4 283.0,381.8 283.9,381.9 284.8,382.2 285.7,383.7 286.6,382.3 287.5,382.6 288.4,382.7 289.3,382.7 290.2,383.0 291.1,382.0 292.0,382.7 292.9,382.9 293.8,382.6 294.7,381.7 295.6,381.2 296.5,382.1 297.4,382.5 298.3,381.0 299.2,381.9 300.1,380.9 301.0,381.7 301.9,382.4 302.8,382.4 303.7,381.7 304.6,381.5 305.5,382.1 306.4,381.4 307.3,380.9 308.2,382.4 309.1,383.0 310.0,381.9 310.9,380.1 311.8,378.4 311.8,378.2 312.7,379.4 313.6,380.4 314.5,383.3 315.4,382.8 316.3,380.7 317.2,381.2 318.1,381.8 319.0,381.7 319.9,380.9 320.8,381.5 321.7,381.9 322.6,382.5 323.5,381.9 324.4,382.1 325.3,382.3 326.2,382.3 327.1,381.9 328.0,381.9 328.9,381.4 329.8,382.5 330.7,381.6 331.6,380.2 332.5,380.9 333.4,380.4 334.3,380.3 335.2,380.4 336.1,381.3 337.0,382.8 337.9,382.4 338.8,382.4 339.7,383.0 340.6,382.4 341.5,382.7 342.4,382.7 343.3,381.5 344.2,381.6 345.1,382.2 346.0,382.6 346.9,382.5 347.8,382.4 348.7,382.4 349.6,382.2 350.5,382.2 351.4,381.5 352.3,381.3 353.2,381.4 354.1,382.2 355.0,382.2 355.9,381.6 356.8,381.9 357.7,382.1 358.6,383.7 359.5,383.7 360.4,381.5 361.3,381.0 362.2,380.4 363.1,381.0 364.0,381.6 364.9,382.3 365.8,383.2 366.7,382.2 367.6,382.9 368.5,382.4 369.4,382.4 370.3,382.2 371.2,381.8 372.1,382.5 373.0,382.6 373.9,382.7 374.8,382.1 375.7,380.9 376.6,381.9 377.5,381.3 378.4,381.5 379.3,381.7 380.2,382.0 381.1,383.1 382.0,382.2 382.9,381.3 383.8,382.5 384.7,382.3 385.6,382.4 386.5,382.0 387.4,382.5 388.3,381.3 389.2,382.7 390.1,383.5 391.0,381.5 391.9,381.6 392.8,381.9 393.7,381.9 394.6,382.2 395.5,381.9 396.4,381.0 397.3,380.6 398.2,380.6 399.1,381.2 400.0,381.7 400.9,381.3 401.8,380.3 402.7,380.1 403.6,381.3 404.5,381.4 405.4,380.4 406.3,380.5 407.2,380.9 408.1,382.2 409.0,381.9 409.9,381.8 410.8,381.7 411.7,382.6 412.6,381.0 413.5,381.3 414.4,381.5 415.3,382.5 416.2,381.8 417.1,381.1 418.0,382.8 418.9,381.9 419.8,381.6 420.7,382.4 421.6,381.8 422.5,382.2 423.4,381.4 424.3,381.6 425.2,381.6 426.1,380.4 427.0,380.9 427.9,381.1 428.8,382.8 429.7,382.8 430.6,381.8 431.5,381.8 432.4,382.5 433.3,382.2 434.2,383.1 435.1,382.5 436.0,383.0 436.9,382.1 437.8,382.4 438.7,382.5 439.6,381.8 440.5,380.9 441.4,382.4 442.3,382.1 443.2,380.9 444.1,381.3 445.0,380.0 445.9,380.8 446.8,381.0 447.7,380.7 448.6,380.0 449.5,380.6 450.4,381.0 451.3,381.6 452.2,382.9 453.1,382.4 454.0,380.8 454.9,381.0 455.8,381.3 456.7,381.5 457.6,382.2 458.5,381.9 459.4,382.4 460.3,381.8 461.2,382.2 462.1,381.9 463.0,381.4 463.9,381.8 464.8,381.2 465.7,381.2 466.6,381.0 467.5,380.5 468.4,382.1 469.3,381.9 470.2,380.0 471.1,378.8 472.0,377.5 472.9,376.8 473.8,373.5 474.7,362.6 475.6,333.0 476.5,297.2 476.8,293.8 477.4,305.5 478.3,342.3 479.2,366.4 480.1,377.2 481.0,378.5 481.9,379.3 482.8,380.2 483.7,380.3 484.6,380.5 485.5,381.3 486.4,380.5 487.3,380.8 488.2,381.2 489.1,380.3 490.0,379.6 490.9,381.6 491.8,382.2 492.7,381.9 493.6,379.9 494.5,381.2 495.4,381.8 496.3,382.5 497.2,383.0 498.1,383.6 499.0,382.1 499.9,382.0 500.8,383.3 501.7,382.8 502.6,382.3 503.5,381.7 504.4,381.4 505.3,380.7 506.2,380.5 507.1,380.7 508.0,380.8 508.9,382.4 509.8,382.0 510.7,380.8 511.6,381.2 512.5,381.7 513.4,383.2 514.3,383.2 515.2,381.6 516.1,381.8 517.0,382.4 517.9,382.7 518.8,383.2 519.7,381.7 520.6,380.8 521.5,380.5 522.4,381.5 523.3,382.1 524.2,382.5 525.1,381.1 526.0,380.9 526.9,382.5 527.8,382.4 528.7,382.6 529.6,383.5 530.5,384.6 531.4,383.2 532.3,382.3 533.2,383.3 534.1,383.3 535.0,384.2 535.9,381.4 536.8,381.5 537.7,382.1 538.6,382.6 539.5,383.0 540.4,382.8 541.3,383.0 542.2,382.9 543.1,382.6"/>
<line x1="69.3" x2="69.3" y1="170.7" y2="364.8" stroke="#707070" stroke-width="1.45" stroke-opacity="0.88" stroke-dasharray="5.1 3.92" stroke-dashoffset="0"/>
<line x1="124.1" x2="124.1" y1="85.5" y2="344.6" stroke="#707070" stroke-width="1.45" stroke-opacity="0.88" stroke-dasharray="5.1 3.92" stroke-dashoffset="0"/>
<line x1="311.6" x2="311.6" y1="105" y2="378" stroke="#111" stroke-width="1.25" stroke-opacity="0.88" stroke-dasharray="5.1 3.92" stroke-dashoffset="4.2"/>
<line x1="411.2" x2="411.2" y1="98.5" y2="139.7" stroke="#111" stroke-width="1.25" stroke-opacity="0.88" stroke-dasharray="5.1 3.92" stroke-dashoffset="0"/>
<line x1="476.6" x2="476.6" y1="25" y2="338" stroke="#111" stroke-width="1.25" stroke-opacity="0.88" stroke-dasharray="5.1 3.92" stroke-dashoffset="0"/>
<rect x="57.5" y="7.4" width="486.79999999999995" height="392.20000000000005" fill="none" stroke="#000" stroke-width="1.9"/>
<line x1="79.2" x2="79.2" y1="399.6" y2="407.6" stroke="#000" stroke-width="1.6"/>
<line x1="123.5" x2="123.5" y1="399.6" y2="404.1" stroke="#000" stroke-width="1.6"/>
<line x1="167.8" x2="167.8" y1="399.6" y2="407.6" stroke="#000" stroke-width="1.6"/>
<line x1="212.1" x2="212.1" y1="399.6" y2="404.1" stroke="#000" stroke-width="1.6"/>
<line x1="256.4" x2="256.4" y1="399.6" y2="407.6" stroke="#000" stroke-width="1.6"/>
<line x1="300.7" x2="300.7" y1="399.6" y2="404.1" stroke="#000" stroke-width="1.6"/>
<line x1="345.0" x2="345.0" y1="399.6" y2="407.6" stroke="#000" stroke-width="1.6"/>
<line x1="389.3" x2="389.3" y1="399.6" y2="404.1" stroke="#000" stroke-width="1.6"/>
<line x1="433.6" x2="433.6" y1="399.6" y2="407.6" stroke="#000" stroke-width="1.6"/>
<line x1="477.9" x2="477.9" y1="399.6" y2="404.1" stroke="#000" stroke-width="1.6"/>
<line x1="522.2" x2="522.2" y1="399.6" y2="407.6" stroke="#000" stroke-width="1.6"/>
<text x="79.2" y="426.2" font-size="16.5" text-anchor="middle">200</text>
<text x="167.8" y="426.2" font-size="16.5" text-anchor="middle">400</text>
<text x="256.4" y="426.2" font-size="16.5" text-anchor="middle">600</text>
<text x="345.0" y="426.2" font-size="16.5" text-anchor="middle">800</text>
<text x="433.6" y="426.2" font-size="16.5" text-anchor="middle">1000</text>
<text x="522.2" y="426.2" font-size="16.5" text-anchor="middle">1200</text>
<text x="77.3" y="75.6" font-size="20" text-anchor="middle">178</text>
<text x="125.5" y="62.4" font-size="20" text-anchor="middle">301</text>
<text x="314" y="85.4" font-size="20" text-anchor="middle">725</text>
<text x="412" y="92" font-size="20" text-anchor="middle">950</text>
<text x="503.5" y="29.6" font-size="20" text-anchor="middle">1098</text>
<text x="415" y="233.2" font-size="20" text-anchor="middle">960</text>
<text x="411.5" y="294.8" font-size="20" text-anchor="middle">947</text>
<text x="508.7" y="103.2" font-size="20">S1</text>
<text x="510.1" y="168.1" font-size="20">S2</text>
<text x="512.3" y="239.9" font-size="20">S3</text>
<text x="512.9" y="307.5" font-size="20">S4</text>
<text x="221.9" y="369.4" font-size="18.5" text-anchor="middle" style="fill:#ff1a1a;stroke:#ff1a1a">stone reference</text>
<text x="206.7" y="460.5" font-size="20.4">Wavenumbers (cm</text>
<text x="377.2" y="454" font-size="13.2">-</text>
<text x="381.8" y="454" font-size="13.2">1</text>
<text x="388.4" y="460.5" font-size="20.4">)</text>
<text transform="translate(23.9,186.5) rotate(-90)" font-size="21" text-anchor="middle">Raman Intensity</text>
</svg></body></html>
